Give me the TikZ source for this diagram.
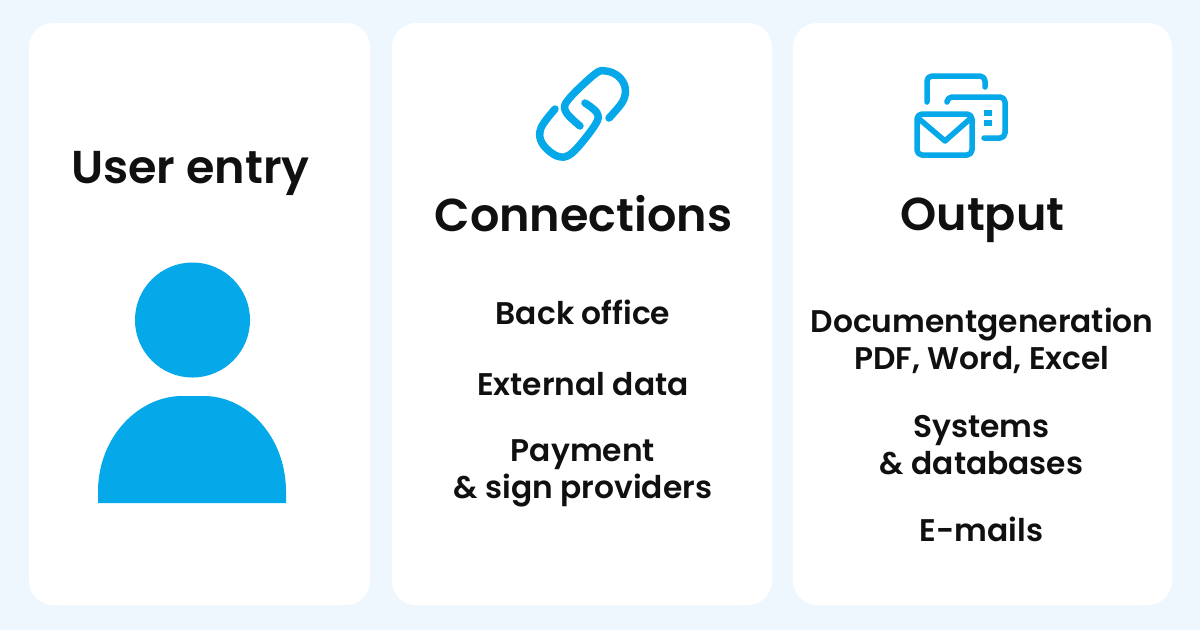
\documentclass[tikz,border=0pt]{standalone}
\usepackage{fontspec}
\setmainfont{Poppins Medium}
\newfontfamily\titlefont{Poppins SemiBold}
\newfontfamily\itemfont{Poppins SemiBold}
\definecolor{bgblue}{HTML}{EFF7FE}
\definecolor{iconblue}{HTML}{05A8E8}
\definecolor{inkblack}{HTML}{101010}
\tikzset{
  cardbox/.style={fill=white,rounded corners=24pt,draw=none},
  titletext/.style={font=\titlefont\fontsize{46.1}{54}\selectfont,text=inkblack,inner sep=0pt,align=center},
  itemtext/.style={font=\itemfont\fontsize{31.3}{37}\selectfont,text=inkblack,inner sep=0pt,align=center},
  iconline/.style={draw=iconblue,line width=7.5pt,line cap=round,line join=round},
  mailline/.style={draw=iconblue,line width=5.5pt,line cap=round,line join=round,rounded corners=5pt}
}
\begin{document}
\begin{tikzpicture}[x=1pt,y=-1pt]
\useasboundingbox (0,0) rectangle (1200,630);
\fill[bgblue] (0,0) rectangle (1200,630);
\fill[cardbox] (29,23) rectangle (370,605);
\fill[cardbox] (392,23) rectangle (772,605);
\fill[cardbox] (793,23) rectangle (1172,605);
% person
\fill[iconblue] (192.5,320) circle[radius=57.5];
\fill[iconblue] (98,503) -- (98,490) .. controls (99,435) and (140,396) .. (182,396) -- (204,396) .. controls (246,396) and (285,435) .. (286,490) -- (286,503) -- cycle;
% link
\draw[iconline] plot[smooth,tension=0.6] coordinates {(609,118) (623,101) (625,87) (618,76) (606,71) (595,74) (568,100) (566,112) (580,126)};
\draw[iconline] plot[smooth,tension=0.6] coordinates {(555,109) (541,128) (542,143) (557,156) (572,153) (595,125) (597,113) (585,103)};
% mail
\draw[mailline] (917,114) rectangle (972,155);
\draw[iconblue,line width=5.5pt,line cap=round,line join=round] (918,118) -- (945,141) -- (971,118);
\draw[mailline] (927,102) -- (927,76) -- (985,76) -- (985,87);
\draw[mailline] (947,101) -- (947,97) -- (1005,97) -- (1005,138) -- (984,138);
\draw[iconblue,line width=5.5pt] (984,113) -- (992,113) (984,123) -- (992,123);
% texts
\node[titletext] (t1) at (190.5,173) {User entry};
\node[titletext] (t2) at (583.5,214) {Connections};
\node[titletext] (t3) at (982.5,220) {Output};
\node[itemtext] (a1) at (583,312) {Back office};
\node[itemtext] (a2) at (583,384) {External data};
\node[itemtext] (a3) at (583,473) {Payment\\\& sign providers};
\node[itemtext] (b1) at (982,341) {Documentgeneration\\PDF, Word, Excel};
\node[itemtext] (b2) at (981.5,445.5) {Systems\\\& databases};
\node[itemtext] (b3) at (981.5,529) {E-mails};
\end{tikzpicture}
\end{document}
